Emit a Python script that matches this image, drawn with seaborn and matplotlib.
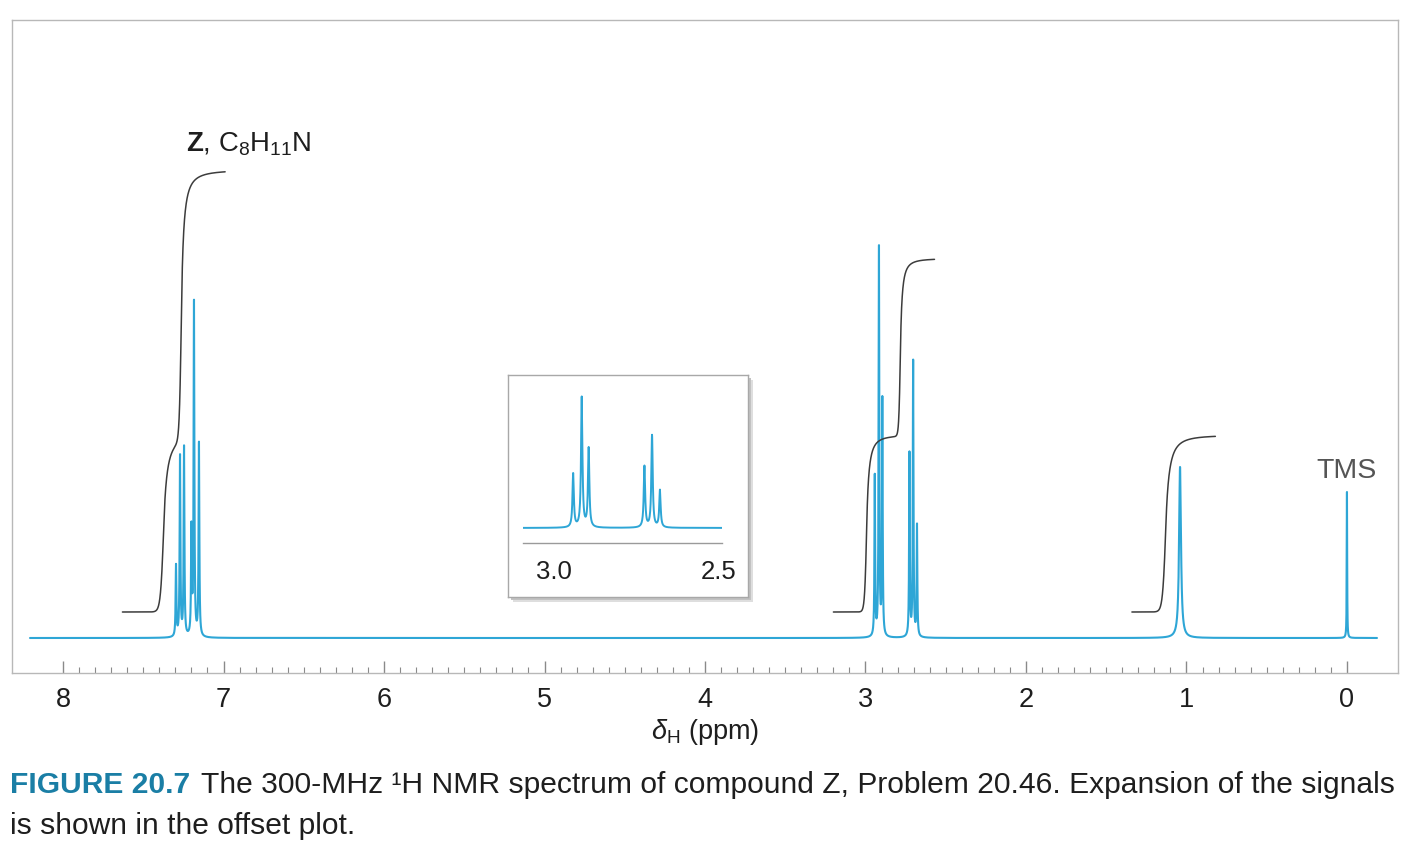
import numpy as np
import matplotlib
matplotlib.use("Agg")
import matplotlib.pyplot as plt
from matplotlib.ticker import FixedLocator, FuncFormatter
from matplotlib.patches import Rectangle
import seaborn as sns

# ---------------- data ----------------
# peaks of the 1H spectrum: position (ppm), height (px above baseline), half width (ppm)
peak_ppm = [7.296, 7.271, 7.246, 7.200, 7.184, 7.153,
            2.942, 2.916, 2.895, 2.726, 2.703, 2.679,
            1.040, 0.000]
peak_height = [71, 180, 189, 105, 333, 193,
               160, 388, 236, 183, 275, 111,
               171, 146]
peak_hwhm = [0.0028, 0.0028, 0.0028, 0.0028, 0.0028, 0.0028,
             0.0025, 0.0025, 0.0025, 0.0025, 0.0025, 0.0025,
             0.0070, 0.0015]
spectrum_range = [8.206, -0.187]

# integral traces: range, step centres, number of H per step
integral_start = [7.63, 3.20, 1.34]
integral_end = [6.99, 2.57, 0.82]
integral_step_ppm = [[7.372, 7.262], [2.992, 2.782], [1.128]]
integral_step_H = [[2, 3], [2, 2], [2]]
integral_step_width = [[0.020, 0.013], [0.013, 0.010], [0.020]]
integral_base = 26
height_per_H = 88.4

major_ticks = [8, 7, 6, 5, 4, 3, 2, 1, 0]
inset_major_ticks = [3.0, 2.5]
inset_minor_ticks = [2.9, 2.8, 2.7, 2.6]

title_text = r"$\mathbf{Z}$, C$_8$H$_{11}$N"
tms_text = "TMS"
xlabel_text = r"$\delta_\mathrm{H}$ (ppm)"
caption_bold = "FIGURE 20.7"
caption_line1 = "The 300-MHz \u00b9H NMR spectrum of compound Z, Problem 20.46. Expansion of the signals"
caption_line2 = "is shown in the offset plot."

# ---------------- styling ----------------
sns.set_theme(style="white")
plt.rcParams['font.family'] = ['Liberation Sans', 'DejaVu Sans']
plt.rcParams['mathtext.fontset'] = 'custom'
plt.rcParams['mathtext.rm'] = 'Liberation Sans'
plt.rcParams['mathtext.it'] = 'Liberation Sans:italic'
plt.rcParams['mathtext.bf'] = 'Liberation Sans:bold'

SPEC_COLOR = "#2ea6d6"
INT_COLOR = "#3c3c3c"
FRAME_COLOR = "#b8b8b8"
TICK_COLOR = "#8a8a8a"
TEXT_COLOR = "#1e1e1e"

W, H = 1418, 857
fig = plt.figure(figsize=(W / 100, H / 100), dpi=100)
fig.patch.set_facecolor("white")


def fx(px):
    return px / W


def fy(py):
    return 1 - py / H


def step_shape(u):
    # smooth rise: fast start, slowly rounded top
    return np.where(u <= 0, 0.5 * (1 + np.tanh(u)), 1 - 0.5 / (1 + np.clip(u, 0, None) / 2) ** 2)


# ---------------- spectrum ----------------
x = np.union1d(np.arange(spectrum_range[1], spectrum_range[0], 0.0004), peak_ppm)
y = np.zeros_like(x)
for p, h, g in zip(peak_ppm, peak_height, peak_hwhm):
    y += h / (1 + ((x - p) / g) ** 2)

# main axes
ax = fig.add_axes([fx(12), fy(673), fx(1398) - fx(12), fy(20) - fy(673)])
ax.set_zorder(0)
sns.lineplot(x=x, y=y, ax=ax, color=SPEC_COLOR, lw=1.5, estimator=None, sort=False)

# integral traces
for xs, xe, cs, hs, ws in zip(integral_start, integral_end, integral_step_ppm,
                              integral_step_H, integral_step_width):
    xi = np.linspace(xs, xe, 800)
    yi = np.full_like(xi, float(integral_base))
    for c, nh, w in zip(cs, hs, ws):
        yi += nh * height_per_H * step_shape((c - xi) / w)
    sns.lineplot(x=xi, y=yi, ax=ax, color=INT_COLOR, lw=1.1, estimator=None, sort=False)

ax.set_xlim(8.318, -0.318)
ax.set_ylim(-35, 618)
ax.set_yticks([])
ax.xaxis.set_major_locator(FixedLocator(major_ticks))
ax.xaxis.set_minor_locator(FixedLocator(np.round(np.arange(0, 8.001, 0.1), 1)))
ax.xaxis.set_major_formatter(FuncFormatter(lambda v, pos: f"{v:g}"))
ax.tick_params(axis='x', which='major', direction='in', length=9, width=1,
               color=TICK_COLOR, labelsize=19.5, labelcolor=TEXT_COLOR, pad=10,
               bottom=True, top=False)
ax.tick_params(axis='x', which='minor', direction='in', length=4, width=0.8,
               color=TICK_COLOR, bottom=True, top=False)
for s in ax.spines.values():
    s.set_color(FRAME_COLOR)
    s.set_linewidth(1.0)
ax.set_xlabel(xlabel_text, fontsize=19.5, color=TEXT_COLOR, labelpad=3)
ax.set_ylabel("")

ax.text(7.234, 486, title_text, fontsize=19.8, color=TEXT_COLOR,
        ha='left', va='baseline')
ax.text(0.0, 160, tms_text, fontsize=20.5, color="#555555",
        ha='center', va='baseline')

# ---------------- inset (offset plot) ----------------
for k, (dx, col) in enumerate([(4.5, "#dedede"), (2.5, "#c2c2c2")]):
    fig.patches.append(Rectangle((fx(508 + dx), fy(597 + dx)), fx(240), fy(375) - fy(597),
                                 transform=fig.transFigure, facecolor=col,
                                 edgecolor='none', zorder=1 + k * 0.1))
box = fig.add_axes([fx(508), fy(597), fx(240), fy(375) - fy(597)])
box.set_zorder(2)
box.set_facecolor("white")
box.set_xticks([])
box.set_yticks([])
for s in box.spines.values():
    s.set_color("#a8a8a8")
    s.set_linewidth(1.0)

axin = fig.add_axes([fx(523), fy(543), fx(722) - fx(523), fy(385) - fy(543)])
axin.set_zorder(3)
axin.patch.set_alpha(0)
sns.lineplot(x=x, y=y, ax=axin, color=SPEC_COLOR, lw=1.4, estimator=None, sort=False)
axin.set_xlim(3.094, 2.491)
axin.set_ylim(-45, 427)
axin.set_yticks([])
axin.xaxis.set_major_locator(FixedLocator(inset_major_ticks))
axin.xaxis.set_minor_locator(FixedLocator(inset_minor_ticks))
axin.xaxis.set_major_formatter(FuncFormatter(lambda v, pos: f"{v:.1f}"))
axin.tick_params(axis='x', which='major', direction='out', length=8, width=1,
                 color=TICK_COLOR, labelsize=18.5, labelcolor=TEXT_COLOR, pad=4)
axin.tick_params(axis='x', which='minor', direction='out', length=3.5, width=0.8,
                 color=TICK_COLOR)
for side in ['left', 'right', 'top']:
    axin.spines[side].set_visible(False)
axin.spines['bottom'].set_color("#9a9a9a")
axin.spines['bottom'].set_linewidth(1.0)
axin.set_xlabel("")
axin.set_ylabel("")

# ---------------- caption ----------------
cap_fs = 21.65
t1 = fig.text(fx(10), fy(793), caption_bold, fontsize=cap_fs, fontweight='bold',
              color="#1a7ea5", ha='left', va='baseline')
renderer = fig.canvas.get_renderer()
bb = t1.get_window_extent(renderer)
fig.text((bb.x1 + 11) / W, fy(793), caption_line1, fontsize=cap_fs, color=TEXT_COLOR,
         ha='left', va='baseline')
fig.text(fx(10), fy(834), caption_line2, fontsize=cap_fs, color=TEXT_COLOR,
         ha='left', va='baseline')

fig.savefig("out.png", dpi=100, facecolor="white")
